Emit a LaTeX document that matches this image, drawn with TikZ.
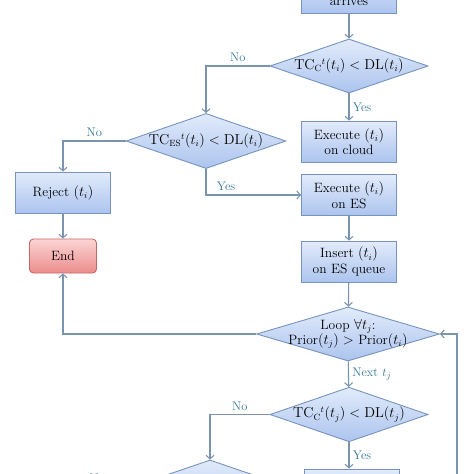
\documentclass[tikz,border=0pt]{standalone}
\usepackage{amsmath,amssymb}
\usepackage{xcolor}
\usepackage{tikz}
\usetikzlibrary{arrows.meta,positioning,shapes.geometric}

\definecolor{lineC}{RGB}{122,148,176}
\definecolor{boxTop}{RGB}{226,235,251}
\definecolor{boxBot}{RGB}{172,196,238}
\definecolor{boxLine}{RGB}{118,148,190}
\definecolor{endTop}{RGB}{252,212,212}
\definecolor{endBot}{RGB}{236,140,140}
\definecolor{endLine}{RGB}{200,104,104}
\definecolor{labC}{RGB}{48,118,150}

\begin{document}
\begin{tikzpicture}[x=1pt, y=-1pt,
  font=\fontsize{13.5}{15.5}\selectfont,
  n/.style={draw=boxLine, line width=0.9pt, top color=boxTop, bottom color=boxBot,
    minimum width=95pt, minimum height=41pt, inner sep=1pt, align=center},
  dec/.style={diamond, draw=boxLine, line width=0.9pt, top color=boxTop, bottom color=boxBot,
    minimum width=158pt, minimum height=54pt, aspect=2.9, inner sep=0.5pt, align=center},
  term/.style={draw=endLine, line width=0.9pt, rounded corners=4pt, top color=endTop,
    bottom color=endBot, minimum width=67pt, minimum height=34pt},
  arr/.style={-{Straight Barb[length=3.5pt,width=8pt]}, draw=lineC, line width=1.1pt},
  lab/.style={text=labC, font=\fontsize{12.5}{14}\selectfont}
]
\useasboundingbox (0,0) rectangle (474,474);
\fill[white] (0,0) rectangle (474,474);
\clip (0,0) rectangle (474,474);

% main column
\node[n] (arrv) at (349,-7.5) {\strut\\arrives};
\node[dec] (dc1) at (349,66) {$\mathrm{TC}_{\mathrm{C}}{}^{t}(t_i) < \mathrm{DL}(t_i)$};
\node[n] (cloud) at (349,141.5) {Execute $(t_i)$\\on cloud};
\node[dec] (dc2) at (206,141) {$\mathrm{TC}_{\mathrm{ES}}{}^{t}(t_i) < \mathrm{DL}(t_i)$};
\node[n] (rej) at (63,192.5) {Reject $(t_i)$};
\node[n] (es) at (349,195) {Execute $(t_i)$\\on ES};
\node[term] (end) at (63,256) {End};
\node[n] (ins) at (349,261.5) {Insert $(t_i)$\\on ES queue};
\node[dec, minimum width=183pt, minimum height=54pt, aspect=3.39, inner sep=-6pt] (loop) at (348,334)
  {Loop $\forall t_j$:\\Prior$(t_j) >$ Prior$(t_i)$};
\node[dec] (dc3) at (349,414.5) {$\mathrm{TC}_{\mathrm{C}}{}^{t}(t_j) < \mathrm{DL}(t_j)$};
\node[dec] (dc4) at (210,487) {};
\node[n] (cl2) at (352,489.5) {};
\coordinate (back) at (457,520);
\coordinate (rj2) at (64,520);

\draw[arr] (arrv) -- (dc1);
\draw[arr] (dc1.west) -| node[above, lab, pos=0.25]{No} (dc2.north);
\draw[arr] (dc1) -- node[right, lab]{Yes} (cloud);
\draw[arr] (dc2.west) -| node[above, lab, pos=0.25]{No} (rej.north);
\draw[arr] (dc2.south) |- node[above right, lab, pos=0.5, xshift=7pt]{Yes} (es.west);
\draw[arr] (rej) -- (end);
\draw[arr] (es) -- (ins);
\draw[arr] (ins) -- (loop);
\draw[arr] (loop.west) -| (end.south);
\draw[arr] (back) |- (loop.east);
\draw[arr] (loop) -- node[right, lab]{Next $t_j$} (dc3);
\draw[arr] (dc3.west) -| node[above, lab, pos=0.25]{No} (dc4.north);
\draw[arr] (dc3.south) -- node[right, lab]{Yes} (dc3.south |- cl2.north);
\draw[arr] (dc4.west) -| node[above, lab, pos=0.25]{No} (rj2);
\end{tikzpicture}
\end{document}
